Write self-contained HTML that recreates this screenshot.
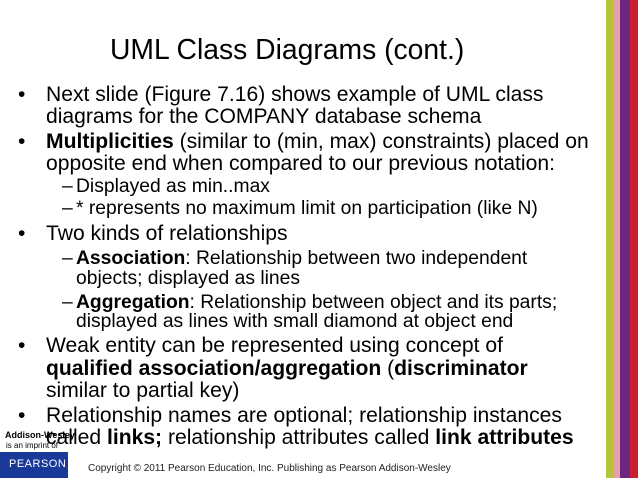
<!DOCTYPE html>
<html><head><meta charset="utf-8"><style>
body{margin:0;width:638px;height:478px;background:#fff;position:relative;overflow:hidden;font-family:"Liberation Sans",sans-serif;color:#000}
.l{position:absolute;white-space:nowrap;line-height:1}
.b{font-size:21.1px}
.s{font-size:19.3px}
</style></head><body>
<div style="position:absolute;left:606px;top:0;width:8px;height:478px;background:#b5c43a"></div>
<div style="position:absolute;left:614px;top:0;width:6px;height:478px;background:#e8a0a8"></div>
<div style="position:absolute;left:620px;top:0;width:10px;height:478px;background:#6c2580"></div>
<div style="position:absolute;left:630px;top:0;width:8px;height:478px;background:#c8202c"></div>
<div class="l" style="left:110px;top:35px;font-size:28.3px">UML Class Diagrams (cont.)</div>
<div class="l b" style="left:18px;top:84px">•</div>
<div class="l b" style="left:46px;top:84px">Next slide (Figure 7.16) shows example of UML class</div>
<div class="l b" style="left:46px;top:106px">diagrams for the COMPANY database schema</div>
<div class="l b" style="left:18px;top:131px">•</div>
<div class="l b" style="left:46px;top:131px"><b>Multiplicities</b> (similar to (min, max) constraints) placed on</div>
<div class="l b" style="left:46px;top:153px">opposite end when compared to our previous notation:</div>
<div class="l s" style="left:62px;top:177px">–</div>
<div class="l s" style="left:76px;top:177px">Displayed as min..max</div>
<div class="l s" style="left:62px;top:199px">–</div>
<div class="l s" style="left:76px;top:199px">* represents no maximum limit on participation (like N)</div>
<div class="l b" style="left:18px;top:223px">•</div>
<div class="l b" style="left:46px;top:223px">Two kinds of relationships</div>
<div class="l s" style="left:62px;top:249px">–</div>
<div class="l s" style="left:76px;top:249px"><b>Association</b>: Relationship between two independent</div>
<div class="l s" style="left:76px;top:269px">objects; displayed as lines</div>
<div class="l s" style="left:62px;top:293px">–</div>
<div class="l s" style="left:76px;top:293px"><b>Aggregation</b>: Relationship between object and its parts;</div>
<div class="l s" style="left:76px;top:312px">displayed as lines with small diamond at object end</div>
<div class="l b" style="left:18px;top:335px">•</div>
<div class="l b" style="left:46px;top:335px">Weak entity can be represented using concept of</div>
<div class="l b" style="left:46px;top:358px"><b>qualified association/aggregation</b> (<b>discriminator</b></div>
<div class="l b" style="left:46px;top:380px">similar to partial key)</div>
<div class="l b" style="left:18px;top:405px">•</div>
<div class="l b" style="left:46px;top:405px">Relationship names are optional; relationship instances</div>
<div class="l b" style="left:46px;top:427px">called <b>links;</b> relationship attributes called <b>link attributes</b></div>
<div class="l" style="left:5px;top:431px;font-size:9px;font-weight:bold">Addison-Wesley</div>
<div class="l" style="left:6px;top:442px;font-size:8px">is an imprint of</div>
<div style="position:absolute;left:0;top:452px;width:68px;height:26px;background:#1a3a9a"></div>
<div class="l" style="left:9px;top:459px;font-size:11px;color:#fff;letter-spacing:0.5px">PEARSON</div>
<div class="l" style="left:88px;top:464px;font-size:10px;color:#222">Copyright © 2011 Pearson Education, Inc. Publishing as Pearson Addison-Wesley</div>
</body></html>
